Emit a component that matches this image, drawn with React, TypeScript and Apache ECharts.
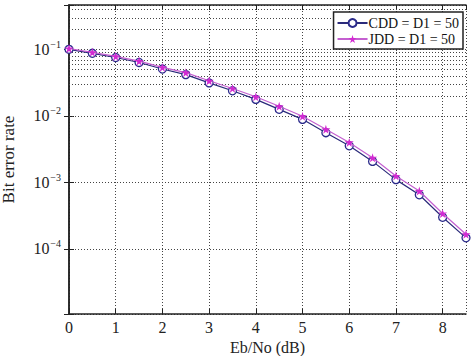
import React, { useEffect, useRef } from "react";
import * as echarts from "echarts";

const ebNo = [0, 0.5, 1, 1.5, 2, 2.5, 3, 3.5, 4, 4.5, 5, 5.5, 6, 6.5, 7, 7.5, 8, 8.5];
const cddBer = [0.101, 0.088, 0.076, 0.064, 0.051, 0.042, 0.0315, 0.024, 0.0178, 0.0126, 0.0089, 0.0056, 0.00356, 0.00207, 0.0011, 0.00065, 0.000298, 0.000146];
const jddBer = [0.104, 0.091, 0.079, 0.067, 0.054, 0.045, 0.034, 0.026, 0.0195, 0.014, 0.0099, 0.0063, 0.004, 0.00235, 0.00125, 0.00074, 0.00034, 0.000165];
const seriesNames = ["CDD = D1 = 50", "JDD = D1 = 50"];
const xTicks = { min: 0, max: 8.5, interval: 1 };
const yRange = { min: 1.04e-5, max: 0.47 };

const minorGrid: number[] = [];
for (let k = -5; k <= -1; k++) {
  for (let m = 2; m <= 9; m++) {
    const v = m * Math.pow(10, k);
    if (v > yRange.min && v < yRange.max) minorGrid.push(v);
  }
}

const STAR =
  "path://M50,0 L61,35 L98,35 L68,57 L79,91 L50,70 L21,91 L32,57 L2,35 L39,35 Z";

export default function App() {
  const ref = useRef<HTMLDivElement>(null);
  useEffect(() => {
    if (!ref.current) return;
    const chart = echarts.init(ref.current, null, { renderer: "svg" });
    const font = "'Liberation Serif', 'Times New Roman', serif";
    const dotted = { type: [1, 2] as any, color: "#444", width: 1 };
    const yFormatter = (v: number) => {
      const e = Math.log10(v);
      const n = Math.round(e);
      if (Math.abs(e - n) < 1e-6) return `{b|10}{e|\u2212${-n}}`;
      return "";
    };
    chart.setOption({
      animation: false,
      backgroundColor: "#fff",
      textStyle: { fontFamily: font },
      grid: { left: 69, top: 5, right: 8, bottom: 42, containLabel: false, outerBoundsMode: "none" },
      legend: {
        orient: "vertical",
        right: 11,
        top: 12,
        itemWidth: 30,
        itemHeight: 10,
        itemGap: 2,
        padding: [4, 4, 3, 3],
        borderColor: "#222",
        borderWidth: 1.5,
        backgroundColor: "#fff",
        textStyle: { fontFamily: font, fontSize: 14, color: "#111", padding: [0, 0, 0, -4] },
        data: seriesNames,
      },
      xAxis: [
        {
          type: "value",
          min: xTicks.min,
          max: xTicks.max,
          interval: xTicks.interval,
          name: "Eb/No (dB)",
          nameLocation: "middle",
          nameGap: 23,
          nameTextStyle: { fontFamily: font, fontSize: 16, color: "#222" },
          axisLine: { show: true, lineStyle: { color: "#222", width: 1.5 } },
          axisTick: { show: true, inside: true, length: 5, lineStyle: { color: "#222" } },
          axisLabel: { fontFamily: font, fontSize: 16, color: "#222", margin: 5, showMaxLabel: false },
          splitLine: { show: true, lineStyle: dotted },
        },
        {
          type: "value",
          position: "top",
          min: xTicks.min,
          max: xTicks.max,
          interval: xTicks.interval,
          axisLine: { show: true, lineStyle: { color: "#222", width: 1.5 } },
          axisTick: { show: true, inside: true, length: 5, lineStyle: { color: "#222" } },
          axisLabel: { show: false },
          splitLine: { show: false },
        },
      ],
      yAxis: [
        {
          type: "log",
          logBase: 10,
          min: yRange.min,
          max: yRange.max,
          name: "Bit error rate",
          nameLocation: "middle",
          nameGap: 52,
          nameTextStyle: { fontFamily: font, fontSize: 17, color: "#222" },
          axisLine: { show: true, lineStyle: { color: "#222", width: 1.5 } },
          axisTick: { show: true, inside: true, length: 5, lineStyle: { color: "#222" } },
          axisLabel: {
            formatter: yFormatter,
            margin: 8,
            rich: {
              b: { fontFamily: font, fontSize: 16, color: "#222" },
              e: { fontFamily: font, fontSize: 10, color: "#222", padding: [0, 0, 10, 1] },
            },
          },
          splitLine: { show: true, lineStyle: dotted },
        },
        {
          type: "log",
          logBase: 10,
          position: "right",
          min: yRange.min,
          max: yRange.max,
          axisLine: { show: true, lineStyle: { color: "#222", width: 1.5 } },
          axisTick: { show: true, inside: true, length: 5, lineStyle: { color: "#222" } },
          axisLabel: { show: false },
          splitLine: { show: false },
        },
      ],
      series: [
        {
          name: seriesNames[0],
          type: "line",
          data: ebNo.map((x, i) => [x, cddBer[i]]),
          symbol: "circle",
          symbolSize: 8,
          itemStyle: { color: "#fff", borderColor: "#2a2a8a", borderWidth: 1.3 },
          lineStyle: { color: "#2a2a7a", width: 1.2 },
          z: 3,
          markLine: {
            silent: true,
            symbol: ["none", "none"],
            label: { show: false },
            lineStyle: dotted,
            emphasis: { disabled: true },
            data: minorGrid.map((v) => ({ yAxis: v })),
            z: 1,
          },
        },
        {
          name: seriesNames[1],
          type: "line",
          data: ebNo.map((x, i) => [x, jddBer[i]]),
          symbol: STAR,
          symbolSize: 9,
          itemStyle: { color: "#d22ad2" },
          lineStyle: { color: "#c460d0", width: 1.2 },
          z: 4,
        },
      ],
    });
    return () => chart.dispose();
  }, []);
  return (
    <div
      ref={ref}
      style={{ position: "fixed", left: 0, top: 0, width: 474, height: 356, background: "#fff" }}
    />
  );
}
